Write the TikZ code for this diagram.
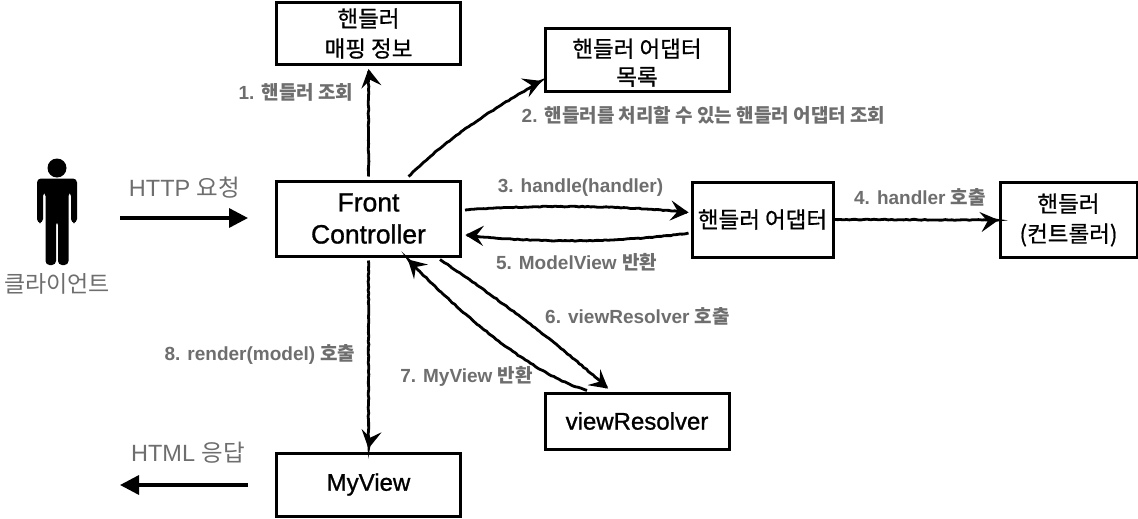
\documentclass[tikz,border=0pt]{standalone}
\usepackage{fontspec}
\setmainfont{Liberation Sans}
\newfontfamily\kr{Noto Sans CJK KR}
\newfontfamily\krm{Noto Sans CJK KR}[FakeBold=0.7]
\newfontfamily\latm{Liberation Sans}[FakeBold=1.0]
\usetikzlibrary{arrows.meta,decorations.pathmorphing,calc}
\definecolor{lab}{HTML}{6E6E6E}
\tikzset{
  x=1pt,y=-1pt,
  box/.style={draw=black,line width=3pt,fill=white,inner sep=0pt,align=center,text=black},
  krbox/.style={box,font=\krm\fontsize{22.5}{30}\selectfont},
  latbox/.style={box,font=\latm\fontsize{24}{31}\selectfont},
  rough/.style={line width=2.8pt,black,decorate,decoration={random steps,segment length=3pt,amplitude=0.4pt},
     -{Stealth[length=18pt,width=20pt,inset=7pt]}},
  heavy/.style={line width=3.4pt,black,-{Triangle[length=19pt,width=19pt]}},
  step label/.style={text=lab,font=\bfseries\fontsize{19}{22}\selectfont,inner sep=0pt},
  big label/.style={text=lab,font=\fontsize{23.5}{26}\selectfont,inner sep=0pt},
}
\begin{document}
\begin{tikzpicture}
\useasboundingbox (0,0) rectangle (1138,519);
\fill[white] (0,0) rectangle (1138,519);
% boxes
\node[krbox,minimum width=184pt,minimum height=62pt] (map) at (368.5,33.5) {핸들러\\매핑 정보};
\node[krbox,font=\krm\fontsize{22.5}{28}\selectfont,minimum width=184pt,minimum height=63pt] (adl) at (637,60) {\rule{0pt}{24pt}핸들러 어댑터\\목록};
\node[latbox,font=\latm\fontsize{26.5}{32}\selectfont,minimum width=184pt,minimum height=75pt] (fc) at (368.5,218.5) {Front\\Controller};
\node[krbox,minimum width=141pt,minimum height=75pt] (ad) at (762.5,219.5) {핸들러 어댑터};
\node[krbox,minimum width=137pt,minimum height=75pt] (ctl) at (1068.5,220) {핸들러\\(컨트롤러)};
\node[latbox,minimum width=184pt,minimum height=56pt] (vr) at (637,421) {viewResolver};
\node[latbox,minimum width=184pt,minimum height=63pt] (mv) at (368.5,484.5) {MyView};
% person
\fill[black] (57,168) circle (9.5);
\fill[black,rounded corners=4pt] (37,178.5) -- (77,178.5) -- (77,223) -- (71,223) -- (71,192) -- (68.5,192) -- (68.5,265) -- (58,265) -- (58,221) -- (56,221) -- (56,265) -- (45.5,265) -- (45.5,192) -- (43,192) -- (43,223) -- (37,223) -- cycle;
\node[big label,font=\kr\fontsize{23}{26}\selectfont] (client) at (57,284) {클라이언트};
% free ends
\coordinate (reqs) at (120,218);
\coordinate (reqe) at (248,218);
\coordinate (ress) at (248,485);
\coordinate (rese) at (120,485);
\draw[heavy] (reqs) -- (reqe);
\draw[heavy] (ress) -- (rese);
\node[big label] (http) at (184.5,188) {HTTP {\kr 요청}};
\node[big label] (html) at (188,453) {HTML {\kr 응답}};
% connectors
\draw[rough] ($(fc.north)+(0,-3)$) -- ($(map.south)+(0,3)$);
\draw[rough] ($(fc.north)+(40,-3)$) .. controls (450,135) and (500,105) .. ($(adl.west)+(-2,21)$);
\draw[rough] ($(fc.east)+(3,-8.5)$) .. controls (530,205) and (620,205) .. ($(ad.west)+(-2,-7)$);
\draw[rough] ($(ad.west)+(-2,13.5)$) .. controls (620,243) and (530,243) .. ($(fc.east)+(3.5,16.5)$);
\draw[rough] (ad.east) -- (ctl.west);
\draw[rough] ($(fc.south)+(71.5,2)$) .. controls (500,300) and (560,345) .. ($(vr.north)+(-29,-3)$);
\draw[rough] ($(vr.north)+(-50,-1)$) .. controls (525,372) and (450,303) .. ($(fc.south)+(39.5,2)$);
\draw[rough] ($(fc.south)+(0,3)$) -- ($(mv.north)+(0,-3)$);
% labels
\node[step label] (l1) at (296,92) {1. {\kr 핸들러 조회}};
\node[step label] (l2) at (703.5,115) {2. {\kr 핸들러를 처리할 수 있는 핸들러 어댑터 조회}};
\node[step label] (l3) at (580.5,188) {3. handle(handler)};
\node[step label] (l4) at (920,197) {4. handler {\kr 호출}};
\node[step label] (l5) at (576.5,262) {5. ModelView {\kr 반환}};
\node[step label] (l6) at (637.5,316) {6. viewResolver {\kr 호출}};
\node[step label] (l7) at (466.5,376) {7. MyView {\kr 반환}};
\node[step label] (l8) at (260,354) {8. render(model) {\kr 호출}};
\end{tikzpicture}
\end{document}
